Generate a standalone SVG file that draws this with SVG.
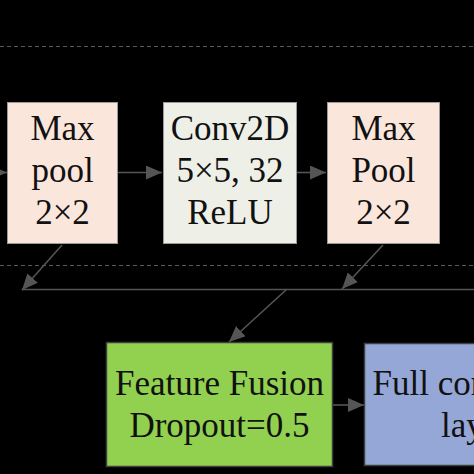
<svg xmlns="http://www.w3.org/2000/svg" width="474" height="474" viewBox="0 0 474 474">
<defs>
<marker id="ah" markerUnits="userSpaceOnUse" markerWidth="17" markerHeight="15" refX="16" refY="7" orient="auto">
<path d="M0,0 L16,7 L0,14 Z" fill="#555"/>
</marker>
<style>
.t{font-family:"Liberation Serif","Times New Roman",serif;fill:#111;text-anchor:middle}
.s{font-size:35px}
.b{font-size:35px}
.c{stroke:#555;stroke-width:1.6;fill:none}
.d{stroke:#5a5a5a;stroke-width:1;stroke-dasharray:4 3;fill:none}
</style>
</defs>
<rect width="474" height="474" fill="#000"/>
<line class="d" x1="0" y1="46.5" x2="474" y2="46.5"/>
<line class="d" x1="0" y1="265.5" x2="474" y2="265.5"/>
<g id="connectors">
<line class="c" x1="-20" y1="172.5" x2="7" y2="172.5" marker-end="url(#ah)"/>
<line class="c" x1="118" y1="172.5" x2="162" y2="172.5" marker-end="url(#ah)"/>
<line class="c" x1="297" y1="172.5" x2="326" y2="172.5" marker-end="url(#ah)"/>
<line class="c" x1="62" y1="245" x2="22" y2="290" marker-end="url(#ah)"/>
<line class="c" x1="383" y1="245" x2="342" y2="289" marker-end="url(#ah)"/>
<line class="c" x1="22" y1="289.5" x2="474" y2="289.5"/>
<line class="c" x1="286" y1="290" x2="229" y2="342" marker-end="url(#ah)"/>
<line class="c" x1="333" y1="405" x2="364" y2="405" marker-end="url(#ah)"/>
</g>
<g id="maxpool1">
<rect x="7.5" y="102.5" width="110" height="141" fill="#fbe6dc" stroke="#9a9a9a" stroke-width="1"/>
<text class="t s" x="62.5" y="140">Max</text>
<text class="t s" x="62.5" y="182">pool</text>
<text class="t s" x="62.5" y="224">2×2</text>
</g>
<g id="conv2d">
<rect x="163.5" y="102.5" width="133" height="141" fill="#eef0e8" stroke="#9a9a9a" stroke-width="1"/>
<text class="t s" x="230" y="140">Conv2D</text>
<text class="t s" x="230" y="182">5×5, 32</text>
<text class="t s" x="230" y="224">ReLU</text>
</g>
<g id="maxpool2">
<rect x="327.5" y="102.5" width="112" height="141" fill="#fbe6dc" stroke="#9a9a9a" stroke-width="1"/>
<text class="t s" x="383.5" y="140">Max</text>
<text class="t s" x="383.5" y="182">Pool</text>
<text class="t s" x="383.5" y="224">2×2</text>
</g>
<g id="fusion">
<rect x="106.5" y="342.5" width="226" height="124" fill="#92d050" stroke="#3f3f3f" stroke-width="1.5"/>
<text class="t b" x="219.5" y="395">Feature Fusion</text>
<text class="t b" x="219.5" y="437">Dropout=0.5</text>
</g>
<g id="fullconn">
<rect x="364.5" y="343.5" width="130" height="122" fill="#95a7d7" stroke="#3f3f3f" stroke-width="1.5"/>
<text class="t b" x="476" y="395">Full connected</text>
<text class="t b" x="476" y="437">layer</text>
</g>
</svg>
